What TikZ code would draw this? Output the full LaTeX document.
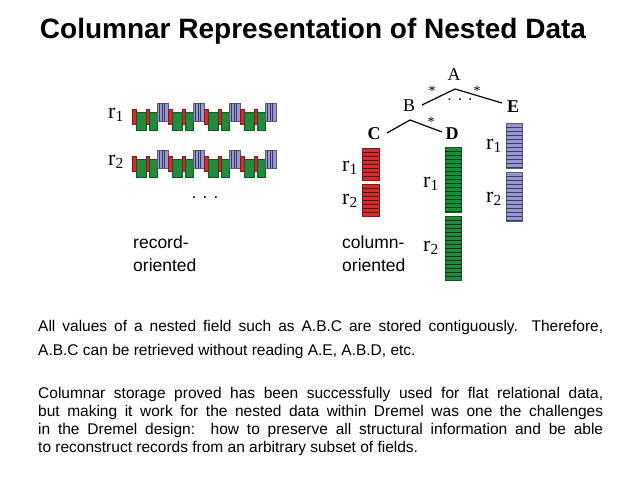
\documentclass[tikz,border=0pt]{standalone}
\usepackage{fontspec}
\setmainfont{Liberation Sans}
\newfontfamily\serifr{Liberation Serif}
\definecolor{cred}{RGB}{222,40,40}
\definecolor{cgreen}{RGB}{30,140,60}
\definecolor{cblue}{RGB}{150,150,210}
\newcommand{\hcolumn}[5]{% x1 y1 x2 y2 color
  \fill[#5,draw=#5!60!black,line width=0.4pt] (#1,#2) rectangle (#3,#4);
  \pgfmathsetmacro{\ystart}{#2+4}
  \pgfmathsetmacro{\ysec}{#2+8}
  \pgfmathsetmacro{\yend}{#4-1}
  \foreach \yy in {\ystart,\ysec,...,\yend} {\draw[#5!40!black,line width=0.3pt] (#1,\yy) -- (#3,\yy);}
}
\newcommand{\vblock}[5]{%
  \fill[#5,draw=#5!60!black,line width=0.4pt] (#1,#2) rectangle (#3,#4);
  \foreach \xx in {2.5,5,7.5} {\draw[#5!40!black,line width=0.3pt] ({#1+\xx},#2) -- ({#1+\xx},#4);}
}
\newcommand{\plain}[5]{\fill[#5,draw=#5!60!black,line width=0.4pt] (#1,#2) rectangle (#3,#4);}
\newcommand{\recrow}[1]{% y offset
  \foreach \g in {0,1,2,3} {
    \pgfmathsetmacro{\gx}{132+36*\g}
    \plain{\gx}{109+#1}{\gx+4}{124+#1}{cred}
    \plain{\gx+4}{112+#1}{\gx+14}{130+#1}{cgreen}
    \plain{\gx+14}{109+#1}{\gx+17}{124+#1}{cred}
    \plain{\gx+17}{112+#1}{\gx+25}{130+#1}{cgreen}
    \vblock{\gx+25}{103+#1}{\gx+36}{121+#1}{cblue}
  }
}
\begin{document}
\begin{tikzpicture}[x=1pt,y=-1pt,
  rl/.style={font=\serifr\fontsize{22}{22}\selectfont},
  fl/.style={font=\serifr\bfseries\fontsize{18}{18}\selectfont},
  st/.style={font=\serifr\fontsize{14}{14}\selectfont},
  lab/.style={font=\fontsize{17.5}{23}\selectfont,align=left,anchor=north west,inner sep=0pt},
  edge/.style={line width=1.2pt}]
\useasboundingbox (0,0) rectangle (638,478);
\node[font=\bfseries\fontsize{28}{32}\selectfont] (title) at (313,31) {Columnar Representation of Nested Data};
% record oriented
\recrow{0}
\recrow{47}
\node[rl] (ra1) at (116,115) {r\textsubscript{1}};
\node[rl] (ra2) at (116,162) {r\textsubscript{2}};
\node[font=\fontsize{17}{17}\selectfont] (dots1) at (205,198) {. . .};
\node[lab] (rec) at (133,236) {record-\\oriented};
% tree
\node[fl] (A) at (454,75) {\mdseries A};
\node[fl] (B) at (409,106) {\mdseries B};
\node[fl] (E) at (513,107) {E};
\node[fl] (C) at (374,134) {C};
\node[fl] (D) at (452,134) {D};
\coordinate (pA) at (455,89);
\coordinate (aL) at (422,105);
\coordinate (aR) at (502,103);
\coordinate (pB) at (410,120);
\coordinate (bL) at (387,133);
\coordinate (bR) at (442,132);
\draw[edge] (aL) -- (pA) -- (aR);
\draw[edge] (bL) -- (pB) -- (bR);
\node[st] (s1) at (432,91) {*};
\node[st] (s2) at (477,91) {*};
\node[st] (s3) at (431,122) {*};
\node[font=\fontsize{16}{16}\selectfont] (dots2) at (460,100) {. . .};
% columns
\hcolumn{362}{148}{379}{180}{cred}
\hcolumn{362}{184}{379}{216}{cred}
\hcolumn{445}{147}{461}{212}{cgreen}
\hcolumn{445}{216}{461}{280}{cgreen}
\hcolumn{506}{123}{522}{168}{cblue}
\hcolumn{506}{172}{522}{221}{cblue}
\node[rl] (rc1) at (350,168) {r\textsubscript{1}};
\node[rl] (rc2) at (350,201) {r\textsubscript{2}};
\node[rl] (rd1) at (431,184) {r\textsubscript{1}};
\node[rl] (rd2) at (431,248) {r\textsubscript{2}};
\node[rl] (re1) at (494,146) {r\textsubscript{1}};
\node[rl] (re2) at (494,199) {r\textsubscript{2}};
\node[lab] (col) at (342,236) {column-\\oriented};
% text
\node[anchor=north west,inner sep=0pt,text width=565pt,align=justify,font=\fontsize{15.5}{24}\selectfont] (p1) at (38,320)
 {All values of a nested field such as A.B.C are stored contiguously. Therefore,\linebreak A.B.C can be retrieved without reading A.E, A.B.D, etc.};
\node[anchor=north west,inner sep=0pt,text width=565pt,align=justify,font=\fontsize{15.5}{18}\selectfont] (p2) at (38,387)
 {Columnar storage proved has been successfully used for flat relational data,\linebreak but making it work for the nested data within Dremel was one the challenges\linebreak in the Dremel design:\ \ how to preserve all structural information and be able\linebreak to reconstruct records from an arbitrary subset of fields.};
\end{tikzpicture}
\end{document}
